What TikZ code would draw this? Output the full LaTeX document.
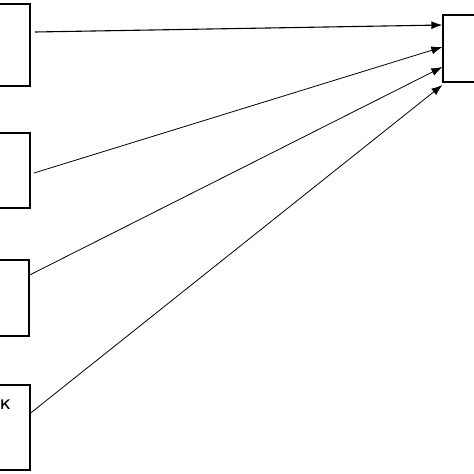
\documentclass[tikz,border=0pt]{standalone}
\usepackage{amsmath}
\usepackage{tikz}
\usetikzlibrary{arrows.meta}
\begin{document}
\begin{tikzpicture}[x=1pt,y=-1pt]
\tikzstyle{box}=[draw,line width=1.3pt,inner sep=0pt];
\tikzstyle{alloc}=[-{Latex[length=11pt,width=8pt]},line width=0.8pt];
\useasboundingbox (0,0) rectangle (474,474);
\node [box,minimum width=40pt,minimum height=82pt] (s1) at (10,45) {};
\node [box,minimum width=40pt,minimum height=75pt] (s2) at (10,170.5) {};
\node [box,minimum width=39pt,minimum height=76pt] (s3) at (9.5,298) {};
\node [box,minimum width=40pt,minimum height=85pt] (s4) at (10,427.5) {};
\node [box,minimum width=40pt,minimum height=67pt] (t) at (463,48.5) {};
\node [anchor=east,inner sep=0pt,font=\sffamily\bfseries\fontsize{14}{17}\selectfont] (k) at (11,405) {K};

\coordinate (a1) at (35,32);
\coordinate (a2) at (34,173);
\coordinate (a3) at (s3.east |- 0,275);
\coordinate (a4) at (s4.east |- 0,413);
\coordinate (b1) at (t.west |- 0,25);
\coordinate (b2) at (t.west |- 0,47);
\coordinate (b3) at (t.west |- 0,67);
\coordinate (b4) at (t.west |- 0,85);
\draw [alloc,line width=1.1pt] (a1) -- (b1);
\draw [alloc] (a2) -- (b2);
\draw [alloc] (a3) -- (b3);
\draw [alloc] (a4) -- (b4);
\end{tikzpicture}
\end{document}
